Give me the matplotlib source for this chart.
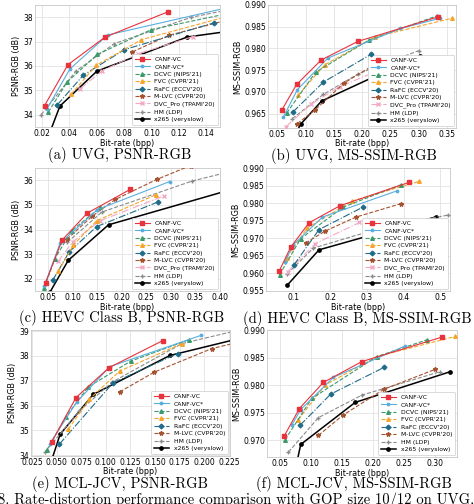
import numpy as np
import matplotlib
matplotlib.use('Agg')
import matplotlib.pyplot as plt
from matplotlib.ticker import FormatStrFormatter

# method names (legend order)
CANF = 'CANF-VC'
CANF_S = 'CANF-VC*'
DCVC = "DCVC (NIPS'21)"
FVC = "FVC (CVPR'21)"
RAFC = "RaFC (ECCV'20)"
MLVC = "M-LVC (CVPR'20)"
DVCP = "DVC_Pro (TPAMI'20)"
HM = 'HM (LDP)'
X265 = 'x265 (veryslow)'

# (a) UVG, PSNR-RGB
uvg_psnr = {
    CANF: ([0.022, 0.039, 0.066, 0.112], [34.38, 36.05, 37.18, 38.22]),
    CANF_S: ([0.0235, 0.0405, 0.068, 0.16], [34.22, 35.88, 37.27, 38.45]),
    DCVC: ([0.0247, 0.0384, 0.0606, 0.0998, 0.16], [34.11, 35.34, 36.48, 37.49, 38.2]),
    FVC: ([0.0413, 0.0597, 0.0927, 0.16], [34.84, 36.03, 37.08, 38.1]),
    RAFC: ([0.0313, 0.0502, 0.0802, 0.1456], [34.41, 35.62, 36.67, 37.77]),
    MLVC: ([0.0861, 0.1128, 0.16], [36.58, 37.26, 37.95]),
    DVCP: ([0.048, 0.064, 0.09, 0.13], [35.07, 35.8, 36.5, 37.2]),
    HM: ([0.0195, 0.045, 0.073, 0.1286, 0.16], [34.0, 35.8, 36.92, 37.99, 38.35]),
    X265: ([0.026, 0.0332, 0.0602, 0.1262, 0.16], [33.3, 34.36, 35.79, 37.19, 37.45]),
}

# (b) UVG, MS-SSIM-RGB
uvg_msssim = {
    CANF: ([0.0576, 0.0841, 0.1276, 0.1924, 0.334], [0.96576, 0.97171, 0.97735, 0.98162, 0.98726]),
    CANF_S: ([0.0606, 0.0853, 0.1394, 0.2676, 0.338], [0.96424, 0.97049, 0.9778, 0.9846, 0.98695]),
    DCVC: ([0.0665, 0.1176, 0.2118, 0.332], [0.96515, 0.97453, 0.98192, 0.98749]),
    FVC: ([0.0865, 0.1341, 0.2235, 0.359], [0.96919, 0.97628, 0.98268, 0.98695]),
    RAFC: ([0.0776, 0.1312, 0.2165], [0.96538, 0.97224, 0.97872]),
    MLVC: ([0.0853, 0.1159, 0.1676, 0.2353], [0.96271, 0.96576, 0.97201, 0.97735]),
    DVCP: ([0.065, 0.11, 0.16, 0.24], [0.962, 0.9672, 0.9712, 0.9755]),
    HM: ([0.0765, 0.1312, 0.1929, 0.30], [0.96386, 0.96942, 0.97415, 0.9795]),
    X265: ([0.075, 0.0912, 0.1282, 0.3018], [0.9585, 0.96256, 0.9679, 0.97834]),
}

# (c) HEVC Class B, PSNR-RGB
hevc_psnr = {
    CANF: ([0.0445, 0.0786, 0.1298, 0.2171], [31.84, 33.58, 34.67, 35.63]),
    CANF_S: ([0.042, 0.0739, 0.1503, 0.2976], [31.7, 33.44, 34.81, 35.95]),
    DCVC: ([0.0418, 0.0636, 0.0977, 0.1557], [31.62, 32.82, 33.95, 34.9]),
    FVC: ([0.0705, 0.1012, 0.1489, 0.2703], [32.3, 33.37, 34.36, 35.42]),
    RAFC: ([0.0589, 0.093, 0.1489, 0.2737], [31.93, 33.10, 34.12, 35.12]),
    MLVC: ([0.088, 0.1387, 0.1864, 0.2717, 0.34], [33.6, 34.53, 35.22, 36.04, 36.6]),
    DVCP: ([0.07, 0.1, 0.155, 0.285], [32.7, 33.5, 34.35, 35.36]),
    HM: ([0.0889, 0.1592, 0.3433, 0.45], [33.48, 34.71, 35.97, 36.5]),
    X265: ([0.0534, 0.0909, 0.1728, 0.45], [31.45, 32.75, 34.19, 35.78]),
}

# (d) HEVC Class B, MS-SSIM-RGB
hevc_msssim = {
    CANF: ([0.0618, 0.0927, 0.1427, 0.2273, 0.4145], [0.96066, 0.96738, 0.97439, 0.97928, 0.9859]),
    CANF_S: ([0.0764, 0.1, 0.1791, 0.3818], [0.96316, 0.96815, 0.97602, 0.9835]),
    DCVC: ([0.0627, 0.12, 0.2364, 0.3927], [0.9596, 0.96988, 0.9789, 0.98523]),
    FVC: ([0.0818, 0.1382, 0.2609, 0.4427], [0.9645, 0.97295, 0.98063, 0.98619]),
    RAFC: ([0.1018, 0.17, 0.29], [0.96239, 0.97247, 0.9789]),
    MLVC: ([0.1336, 0.1855, 0.27, 0.3927], [0.96863, 0.97199, 0.97602, 0.97986]),
    DVCP: ([0.085, 0.16, 0.28], [0.9605, 0.9685, 0.9745]),
    HM: ([0.0836, 0.1545, 0.3382, 0.52], [0.95989, 0.96719, 0.97295, 0.97659]),
    X265: ([0.0836, 0.17, 0.4882], [0.95663, 0.96671, 0.97611]),
}

# (e) MCL-JCV, PSNR-RGB
mcl_psnr = {
    CANF: ([0.0452, 0.0697, 0.1033, 0.1577], [34.54, 36.32, 37.53, 38.62]),
    CANF_S: ([0.0428, 0.0704, 0.104, 0.1964], [34.44, 36.14, 37.57, 38.83]),
    DCVC: ([0.04, 0.0596, 0.0821, 0.1251, 0.1846], [34.2, 35.55, 36.75, 37.79, 38.66]),
    FVC: ([0.062, 0.0831, 0.114, 0.1772], [35.05, 36.25, 37.39, 38.5]),
    RAFC: ([0.0529, 0.1073, 0.1728], [34.44, 36.92, 38.1]),
    MLVC: ([0.114, 0.1493, 0.2075, 0.25], [36.55, 37.35, 38.3, 38.7]),
    HM: ([0.0384, 0.073, 0.1066, 0.1772, 0.23], [34.13, 35.78, 36.95, 38.5, 39.0]),
    X265: ([0.045, 0.0536, 0.0872, 0.165, 0.24], [33.8, 34.84, 36.45, 38.02, 38.75]),
}

# (f) MCL-JCV, MS-SSIM-RGB
mcl_msssim = {
    CANF: ([0.0565, 0.0813, 0.1202, 0.1823, 0.3119], [0.97073, 0.97578, 0.98052, 0.98428, 0.98872]),
    CANF_S: ([0.0689, 0.0835, 0.1364, 0.2525], [0.97274, 0.9756, 0.98143, 0.98713]),
    DCVC: ([0.0581, 0.1013, 0.2066, 0.2876], [0.97012, 0.9776, 0.98519, 0.98823]),
    FVC: ([0.0797, 0.1229, 0.2066, 0.3335], [0.97377, 0.98003, 0.98519, 0.98884]),
    RAFC: ([0.0824, 0.132, 0.2184], [0.97274, 0.97839, 0.98325]),
    MLVC: ([0.1121, 0.1515, 0.2174, 0.3011], [0.97091, 0.97456, 0.97924, 0.98289]),
    HM: ([0.0635, 0.1121, 0.1823, 0.3092], [0.96787, 0.97413, 0.97821, 0.98246]),
    X265: ([0.0743, 0.0835, 0.1715, 0.3254], [0.9645, 0.96927, 0.97689, 0.98246]),
}

styles = {
    CANF: dict(color='#e8323c', ls='-', marker='s', ms=2.6, z=10),
    CANF_S: dict(color='#5aaede', ls='-', marker='.', ms=3.5, z=9),
    DCVC: dict(color='#3a9a6a', ls='--', marker='^', ms=2.6, z=8),
    FVC: dict(color='#f6a52a', ls='--', marker='^', ms=2.6, z=7),
    RAFC: dict(color='#1f6b88', ls='-.', marker='D', ms=2.4, z=6),
    MLVC: dict(color='#a4522f', ls='--', marker='*', ms=3.2, z=5),
    DVCP: dict(color='#f2a9c4', ls='-.', marker='x', ms=2.4, z=4),
    HM: dict(color='#8a8a8a', ls='--', marker='+', ms=3.2, z=3),
    X265: dict(color='black', ls='-', marker='o', ms=2.4, z=2),
}

W, H = 474, 504


def box(l, r, t, b):
    return [l / W, 1 - b / H, (r - l) / W, (b - t) / H]


def draw(ax, data, xlim, ylim, xticks, yticks, xfmt, yfmt, ylabel):
    for name, (xs, ys) in data.items():
        st = styles[name]
        lw = 1.1 if name == X265 else 0.8
        ax.plot(xs, ys, color=st['color'], ls=st['ls'], marker=st['marker'],
                ms=st['ms'], lw=lw, label=name, zorder=st['z'])
    ax.set_xlim(*xlim)
    ax.set_ylim(*ylim)
    ax.set_xticks(xticks)
    ax.set_yticks(yticks)
    ax.xaxis.set_major_formatter(FormatStrFormatter(xfmt))
    ax.yaxis.set_major_formatter(FormatStrFormatter(yfmt))
    ax.grid(True, color='#e2e2e2', lw=0.6)
    ax.set_axisbelow(True)
    for s in ax.spines.values():
        s.set_color('#c8c8c8')
        s.set_linewidth(0.6)
    ax.tick_params(length=0, labelsize=5.5, pad=1.5)
    ax.set_xlabel('Bit-rate (bpp)', fontsize=5.8, labelpad=0.3)
    ax.set_ylabel(ylabel, fontsize=5.8, labelpad=1.5)
    leg = ax.legend(loc='lower right', fontsize=4.4, handlelength=2.4,
                    labelspacing=0.35, borderpad=0.5, framealpha=1,
                    borderaxespad=0.3)
    leg.get_frame().set_linewidth(0.5)
    leg.get_frame().set_edgecolor('#cccccc')


fig = plt.figure(figsize=(W / 100, H / 100), dpi=100)

ax = fig.add_axes(box(35, 220, 5, 127))
draw(ax, uvg_psnr, (0.015, 0.15), (33.5, 38.5), np.arange(0.02, 0.141, 0.02),
     range(34, 39), '%.2f', '%d', 'PSNR-RGB (dB)')

ax = fig.add_axes(box(268, 456, 5, 128))
draw(ax, uvg_msssim, (0.0335, 0.366), (0.9617, 0.990), np.arange(0.05, 0.351, 0.05),
     np.arange(0.965, 0.9901, 0.005), '%.2f', '%.3f', 'MS-SSIM-RGB')

ax = fig.add_axes(box(35, 220, 168, 291))
draw(ax, hevc_psnr, (0.023, 0.40), (31.5, 36.5), np.arange(0.05, 0.401, 0.05),
     range(32, 37), '%.2f', '%d', 'PSNR-RGB (dB)')

ax = fig.add_axes(box(266, 450, 168, 291))
draw(ax, hevc_msssim, (0.026, 0.526), (0.955, 0.990), np.arange(0.1, 0.501, 0.1),
     np.arange(0.955, 0.9901, 0.005), '%.1f', '%.3f', 'MS-SSIM-RGB')

ax = fig.add_axes(box(31, 230, 330, 456))
draw(ax, mcl_psnr, (0.024, 0.226), (33.96, 39.05), np.arange(0.025, 0.2251, 0.025),
     range(34, 40), '%.3f', '%d', 'PSNR-RGB (dB)')

ax = fig.add_axes(box(267, 457, 330, 457))
draw(ax, mcl_msssim, (0.029, 0.336), (0.967, 0.990), np.arange(0.05, 0.301, 0.05),
     np.arange(0.970, 0.9901, 0.005), '%.2f', '%.3f', 'MS-SSIM-RGB')

# sub-captions
caps = [
    (120, 155, '(a) UVG, PSNR-RGB'),
    (354, 156, '(b) UVG, MS-SSIM-RGB'),
    (122, 318, '(c) HEVC Class B, PSNR-RGB'),
    (357, 319, '(d) HEVC Class B, MS-SSIM-RGB'),
    (120, 484, '(e) MCL-JCV, PSNR-RGB'),
    (354, 484, '(f) MCL-JCV, MS-SSIM-RGB'),
]
for cx, cy, txt in caps:
    fig.text(cx / W, 1 - cy / H, txt, ha='center', va='center',
             fontsize=10.5, family='cmr10')

fig.text(-2 / W, 1 - 493 / H,
         '8. Rate-distortion performance comparison with GOP size 10/12 on UVG, HEVC',
         ha='left', va='top', fontsize=10.5, family='cmr10')

fig.savefig('out.png', dpi=100)
